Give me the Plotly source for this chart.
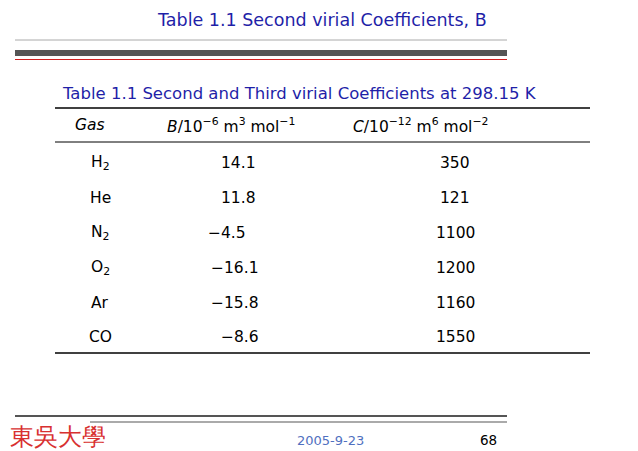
import plotly.graph_objects as go

gases = ["H<sub>2</sub>", "He", "N<sub>2</sub>", "O<sub>2</sub>", "Ar", "CO"]
b_vals = ["14.1", "11.8", "-4.5", "-16.1", "-15.8", "-8.6"]
c_vals = ["350", "121", "1100", "1200", "1160", "1550"]
headers = ["<i>Gas</i>", "<i>B</i>/10<sup>−6</sup> m<sup>3</sup> mol<sup>−1</sup>",
           "<i>C</i>/10<sup>−12</sup> m<sup>6</sup> mol<sup>−2</sup>"]

W, H = 638, 451
OFF = 8
fig = go.Figure()
F = "DejaVu Sans"
ann = []
def t(x, y, s, size=14, color="black", xa="center"):
    ann.append(dict(x=x, y=y, text=s, showarrow=False, xref="x", yref="y",
                    xanchor=xa, yanchor="middle", font=dict(family=F, size=size, color=color)))

t(322, 20, "Table 1.1 Second virial Coefficients, B", 17.5, "#1f1fa8")
t(60, 93, "Table 1.1 Second and Third virial Coefficients at 298.15 K", 16.5, "#1f1fa8", "left")
hx = [90, 231, 420]
for x, h in zip(hx, headers):
    t(x, 125, h, 15.5)
rows_y = [163, 198, 233, 268, 303, 337]
b_x = [238, 238, 227, 235, 235, 240]
for y, g, b, c, x in zip(rows_y, gases, b_vals, c_vals, b_x):
    t(100, y, g, 15.5)
    t(x, y, b.replace("-", "−"), 15.5)
    t(455, y, c, 15.5)
t(58, 437, "東吳大學", 24, "#d83030")
t(330, 440, "2005-9-23", 13, "#5070c0")
t(488, 440, "68", 13.5)

shapes = [
    dict(type="line", x0=15, x1=507, y0=40, y1=40, line=dict(color="#aaaaaa", width=1)),
    dict(type="rect", x0=15, x1=507, y0=50, y1=56, fillcolor="#555555", line=dict(width=0)),
    dict(type="line", x0=15, x1=507, y0=59.5, y1=59.5, line=dict(color="#d02020", width=1.2)),
    dict(type="line", x0=55, x1=590, y0=108, y1=108, line=dict(color="black", width=1.5)),
    dict(type="line", x0=55, x1=590, y0=142, y1=142, line=dict(color="black", width=1)),
    dict(type="line", x0=55, x1=590, y0=353, y1=353, line=dict(color="black", width=1.5)),
    dict(type="line", x0=15, x1=507, y0=416, y1=416, line=dict(color="#555555", width=2)),
    dict(type="line", x0=90, x1=507, y0=422, y1=422, line=dict(color="#aaaaaa", width=2)),
]
fig.update_layout(width=W, height=H, margin=dict(l=0, r=0, t=0, b=0),
                  plot_bgcolor="white", paper_bgcolor="white",
                  xaxis=dict(range=[OFF, W + OFF], visible=False, fixedrange=True),
                  yaxis=dict(range=[H + OFF, OFF], visible=False, fixedrange=True),
                  annotations=ann, shapes=shapes, showlegend=False)
fig.write_html("out.html")
